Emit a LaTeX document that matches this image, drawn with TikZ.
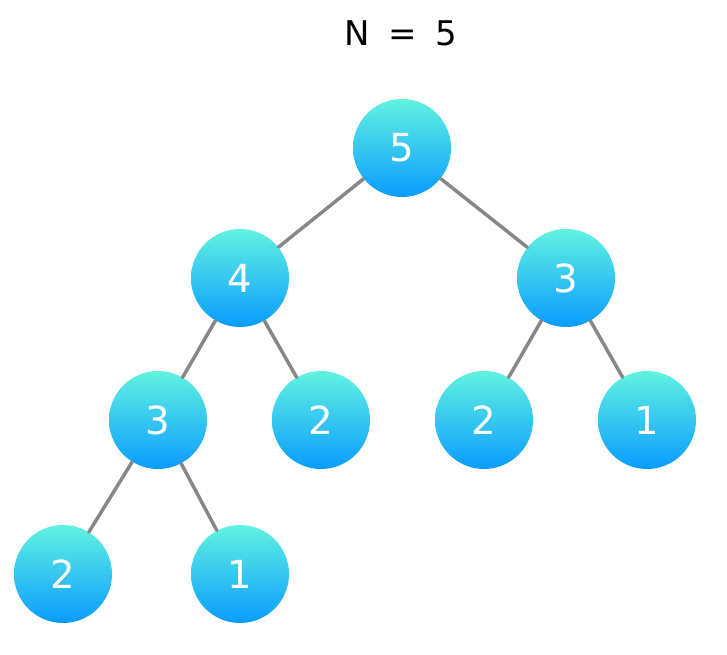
\documentclass[tikz,border=0pt]{standalone}
\usepackage{fontspec}
\setmainfont{DejaVu Sans}
\definecolor{aqtop}{rgb}{0.38,0.95,0.88}
\definecolor{aqbot}{rgb}{0.04,0.61,1.}
\definecolor{eegray}{rgb}{0.53,0.53,0.53}
\begin{document}
\begin{tikzpicture}[line cap=round,line join=round,x=0.75pt,y=-0.75pt,
    ball/.style={circle,minimum size=73.5pt,inner sep=0pt,top color=aqtop,bottom color=aqbot,
        text=white,font=\fontsize{29}{29}\selectfont},
    edge/.style={line width=2.6pt,color=eegray}]
        \useasboundingbox (0,0) rectangle (727,655);
        \node (title) at (401,33) {\fontsize{25.5}{25.5}\selectfont N\hspace{0.55em}=\hspace{0.55em}5};
        \node[ball] (n5) at (402,148) {5};
        \node[ball] (n4) at (240,278) {4};
        \node[ball] (n3r) at (566,278) {3};
        \node[ball] (n3l) at (158,420) {3};
        \node[ball] (n2a) at (321,420) {2};
        \node[ball] (n2b) at (484,420) {2};
        \node[ball] (n1a) at (647,420) {1};
        \node[ball] (n2c) at (63,574) {2};
        \node[ball] (n1b) at (240,574) {1};
        \draw [edge] (n5)-- (n4);
        \draw [edge] (n5)-- (n3r);
        \draw [edge] (n4)-- (n3l);
        \draw [edge] (n4)-- (n2a);
        \draw [edge] (n3r)-- (n2b);
        \draw [edge] (n3r)-- (n1a);
        \draw [edge] (n3l)-- (n2c);
        \draw [edge] (n3l)-- (n1b);
    \end{tikzpicture}
\end{document}
